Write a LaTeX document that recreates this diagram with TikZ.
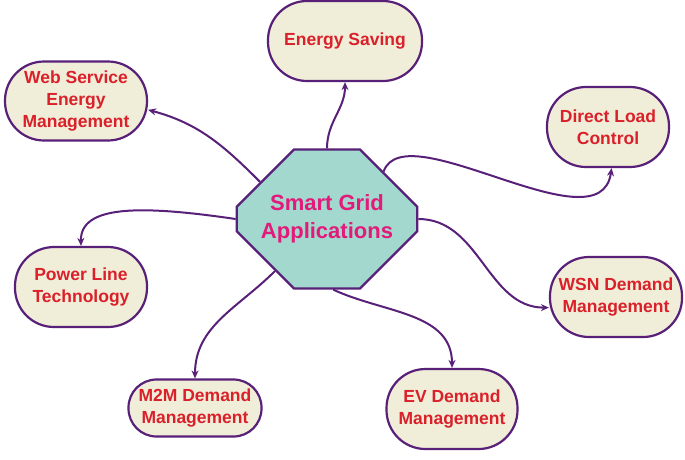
\documentclass[tikz,border=0pt]{standalone}
\usepackage{fontspec}
\setmainfont{Liberation Sans}
\definecolor{edge}{RGB}{88,32,120}
\definecolor{appfill}{RGB}{240,238,216}
\definecolor{apptext}{RGB}{218,32,42}
\definecolor{hubfill}{RGB}{162,216,206}
\definecolor{hubtext}{RGB}{226,26,122}
\usetikzlibrary{arrows.meta,shapes.misc}
\tikzset{
  app/.style={draw=edge, line width=2.2pt, rounded corners=39pt, fill=appfill, text=apptext,
              inner sep=0pt, font=\bfseries\fontsize{17.5}{22}\selectfont, align=center, minimum height=80pt},
  hub/.style={chamfered rectangle, chamfered rectangle xsep=51pt, chamfered rectangle ysep=33pt,
              draw=edge, line width=2.2pt, fill=hubfill, text=hubtext, inner sep=0pt,
              font=\bfseries\fontsize{22}{28}\selectfont, align=center, minimum width=180pt, minimum height=139pt},
  link/.style={-{Stealth[length=8pt,width=7pt]}, edge, line width=2pt},
}
\begin{document}
\begin{tikzpicture}[x=1pt,y=-1pt]
    \useasboundingbox (0,0) rectangle (685,459);
    \node[hub] (hub) at (327,219) {Smart Grid\\Applications};
    \node[app,minimum width=154pt] (save) at (345,41) {Energy Saving};
    \node[app,minimum width=142pt,minimum height=79pt] (web) at (76,101) {Web Service\\Energy\\Management};
    \node[app,minimum width=122pt] (load) at (608,127) {Direct Load\\Control};
    \node[app,minimum width=132pt] (plc) at (81,287) {Power Line\\Technology};
    \node[app,minimum width=132pt] (wsn) at (616,297) {WSN Demand\\Management};
    \node[app,minimum width=133pt,minimum height=57pt,rounded corners=28pt] (m2m) at (195,408) {M2M Demand\\Management};
    \node[app,minimum width=131pt] (ev) at (452,409) {EV Demand\\Management};
    \draw[link] (hub.north) to[out=90,in=-90] (save.south);
    \draw[link] (hub.151) to[out=135,in=-15] (web.-7);
    \draw[link] (hub.40) .. controls (405,112) and (600,250) .. (load.-85);
    \draw[link] (hub.west) .. controls (140,205) and (80,205) .. (plc.north);
    \draw[link] (hub.east) to[out=0,in=180] (wsn.-171);
    \draw[link] (hub.225) to[out=-135,in=90] (m2m.north);
    \draw[link] (hub.275) to[out=-25,in=90] (ev.north);
\end{tikzpicture}
\end{document}
